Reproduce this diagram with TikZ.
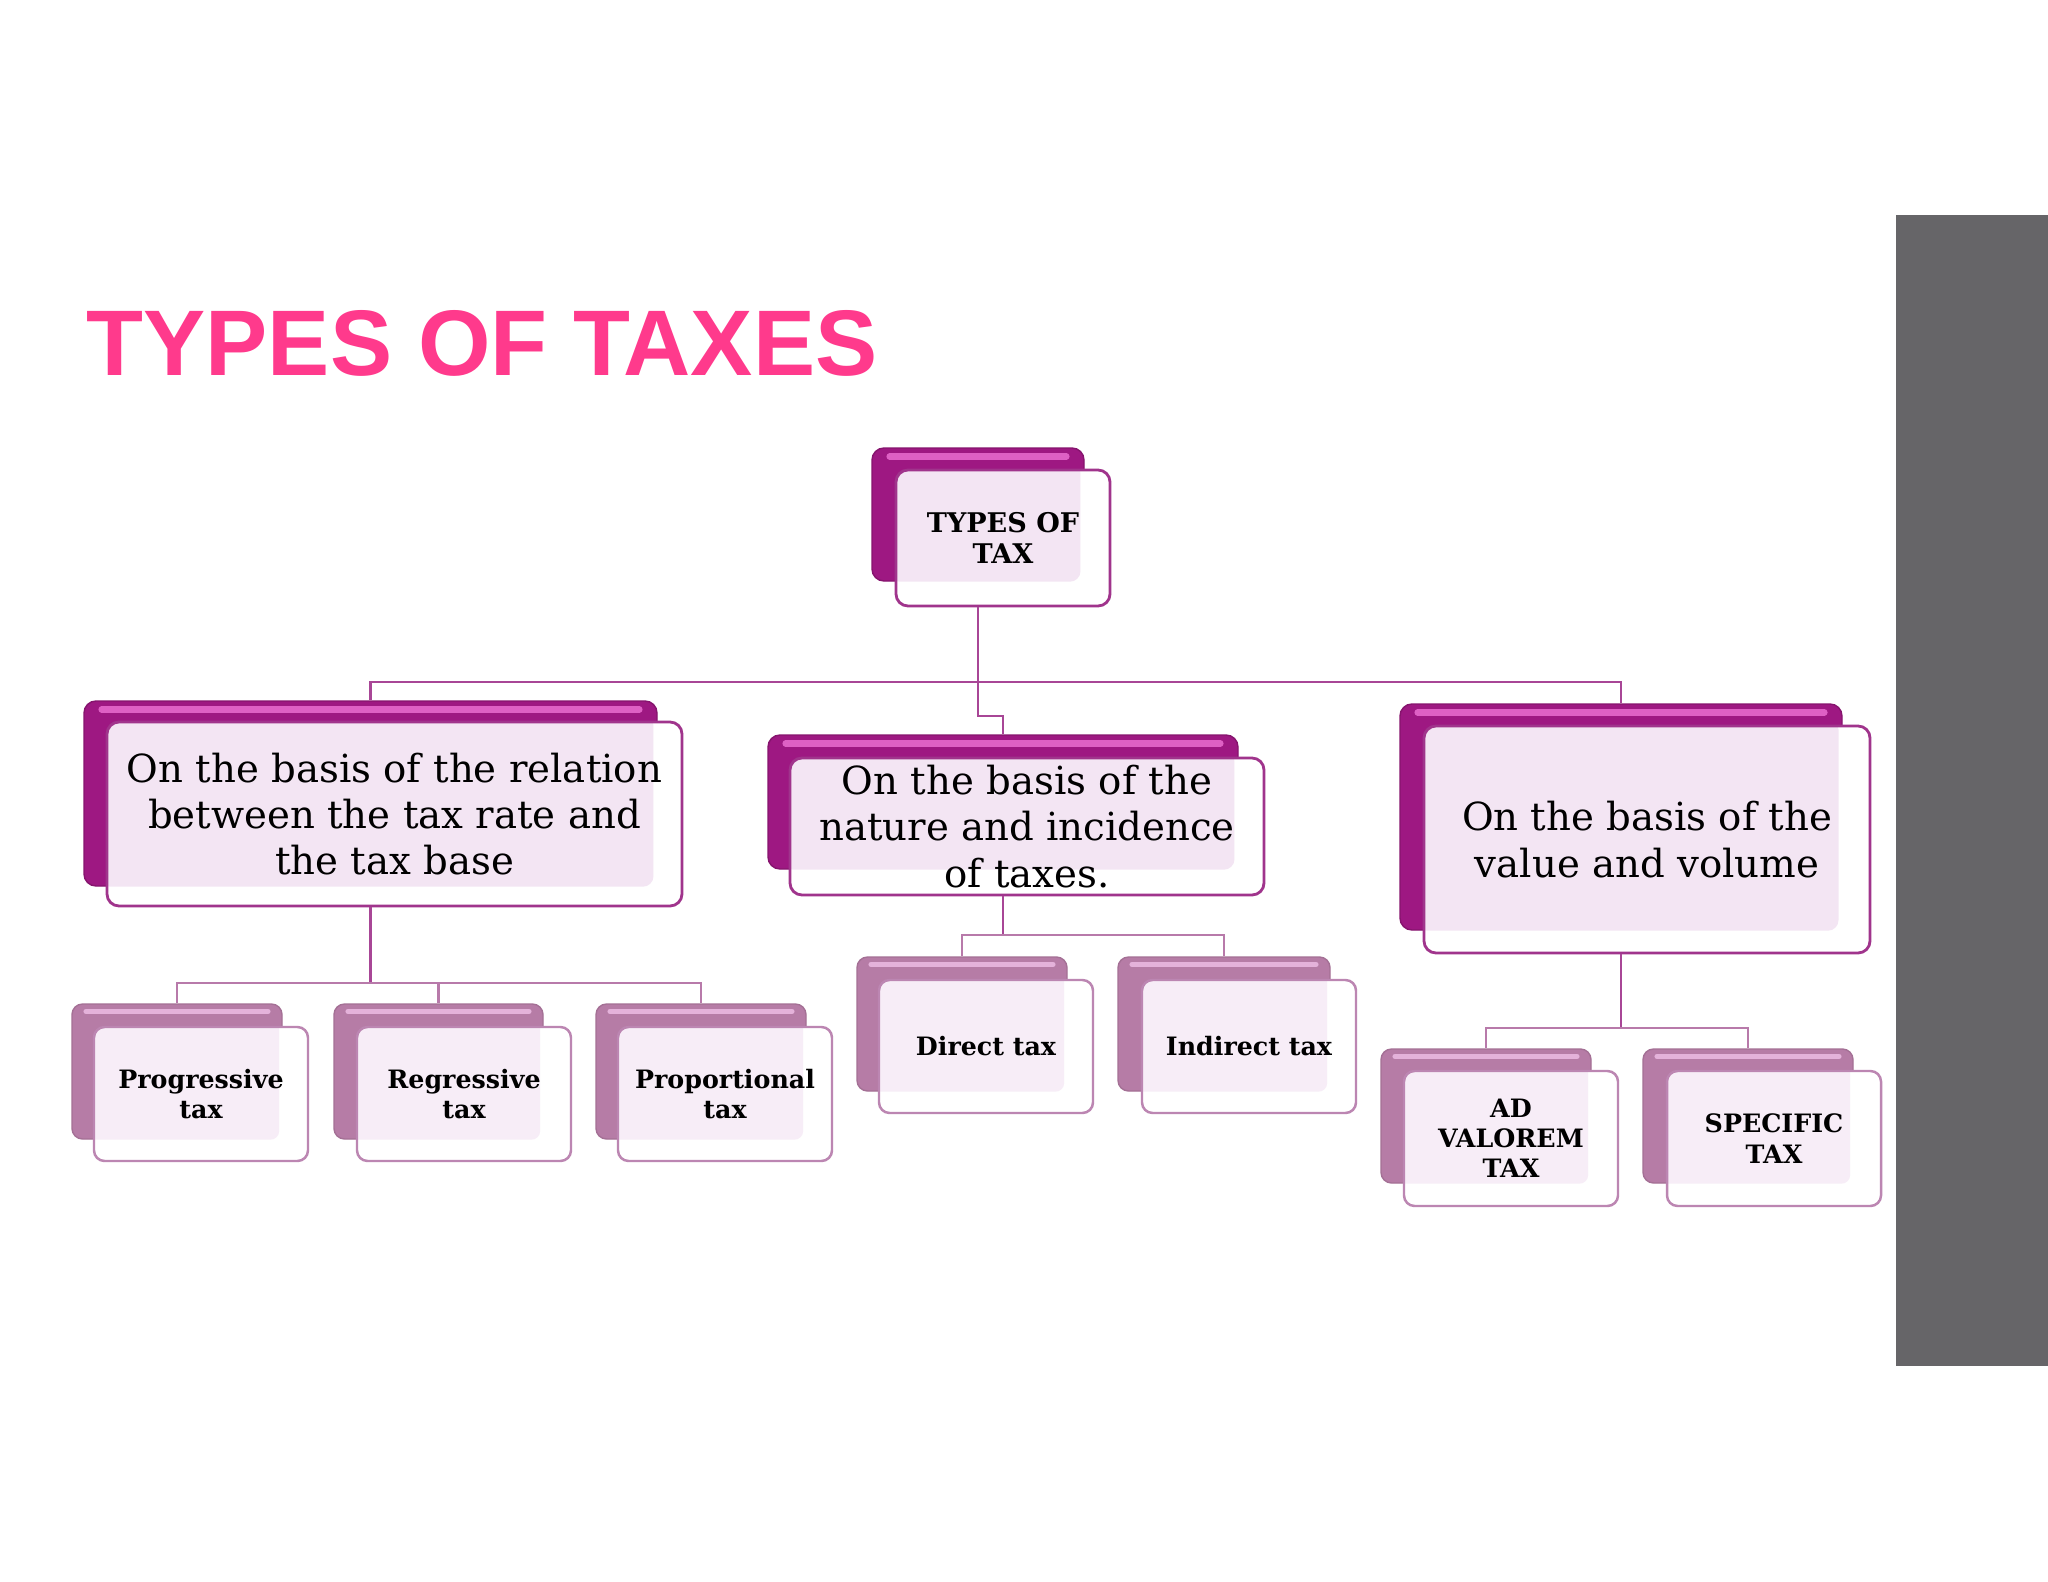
\documentclass[tikz,border=0pt]{standalone}
\usepackage{fontspec}
\setmainfont{DejaVu Serif}
\newfontfamily\titlefont{Liberation Sans}
\usetikzlibrary{fit}
\definecolor{bigbackc}{RGB}{158,24,130}
\definecolor{bighl}{RGB}{222,96,196}
\definecolor{bigborder}{RGB}{160,52,140}
\definecolor{smallbackc}{RGB}{182,124,166}
\definecolor{smallhl}{RGB}{228,178,218}
\definecolor{smallborder}{RGB}{188,134,178}
\definecolor{pinkfill}{RGB}{243,229,243}
\definecolor{connc}{RGB}{168,70,150}
\definecolor{conncl}{RGB}{184,122,170}
\definecolor{titlepink}{RGB}{255,58,140}
\definecolor{greybar}{RGB}{102,101,104}
\begin{document}
\begin{tikzpicture}[x=0.01cm,y=-0.01cm,
  bigbackbox/.style={fill=bigbackc, draw=bigbackc!85!black, line width=0.4pt, rounded corners=3.4pt, inner sep=0pt,
    path picture={\draw[bighl, line width=1.8pt, line cap=round]
      ([xshift=5pt,yshift=-2.4pt]path picture bounding box.north west) --
      ([xshift=-5pt,yshift=-2.4pt]path picture bounding box.north east);}},
  smallbackbox/.style={fill=smallbackc, draw=smallbackc!90!black, line width=0.4pt, rounded corners=3pt, inner sep=0pt,
    path picture={\draw[smallhl, line width=1.5pt, line cap=round]
      ([xshift=4pt,yshift=-2.1pt]path picture bounding box.north west) --
      ([xshift=-4pt,yshift=-2.1pt]path picture bounding box.north east);}},
  bigfront/.style={fill=white, draw=bigborder, line width=0.8pt, rounded corners=3.4pt, inner sep=0pt,
    path picture={\fill[pinkfill, rounded corners=3pt]
      ([xshift=-2pt,yshift=2pt]path picture bounding box.north west) rectangle ([xshift=-1.2pt]#1.south east);}},
  smallfront/.style={fill=white, draw=smallborder, line width=0.7pt, rounded corners=3pt, inner sep=0pt,
    path picture={\fill[pinkfill!70!white, rounded corners=2.5pt]
      ([xshift=-2pt,yshift=2pt]path picture bounding box.north west) rectangle ([xshift=-1pt]#1.south east);}},
  midtext/.style={align=center, inner sep=0pt, font=\fontsize{11}{13.2}\selectfont},
  labtext/.style={align=center, inner sep=0pt, font=\bfseries\fontsize{7.2}{8.6}\selectfont},
  conn/.style={draw=connc, line width=0.8pt},
  connl/.style={draw=conncl, line width=0.8pt}
]
\useasboundingbox (0,0) rectangle (2048,1582);
\fill[white] (0,0) rectangle (2048,1582);
% grey bar
\fill[greybar] (1896,215) rectangle (2048,1366);
% title
\node[anchor=base west, inner sep=0pt, text=titlepink,
  font=\titlefont\bfseries\fontsize{26.5}{30}\selectfont] (title) at (86,375) {TYPES OF TAXES};

% root
\node[bigbackbox, fit={(872,448) (1084,581)}] (rootB) {};
\node[bigfront=rootB, fit={(896,470) (1110,606)}] (root) {};
\node[labtext, font=\bfseries\fontsize{7.7}{8.9}\selectfont] (rootT) at (root.center) {TYPES OF\\TAX};

% level 1
\node[bigbackbox, fit={(84,701) (657,886)}] (leftB) {};
\node[bigfront=leftB, fit={(107,722) (682,906)}] (left) {};
\node[midtext] (leftT) at (left.center) {On the basis of the relation\\between the tax rate and\\the tax base};

\node[bigbackbox, fit={(768,735) (1238,869)}] (midB) {};
\node[bigfront=midB, fit={(790,758) (1264,895)}] (mid) {};
\node[midtext] (midT) at (mid.center) {On the basis of the\\nature and incidence\\of taxes.};

\node[bigbackbox, fit={(1400,704) (1842,930)}] (rightB) {};
\node[bigfront=rightB, fit={(1424,726) (1870,953)}] (right) {};
\node[midtext] (rightT) at (right.center) {On the basis of the\\value and volume};

% level 2 left
\node[smallbackbox, fit={(72,1004) (282,1139)}] (progB) {};
\node[smallfront=progB, fit={(94,1027) (308,1161)}] (prog) {};
\node[labtext] (progT) at (prog.center) {Progressive\\tax};

\node[smallbackbox, fit={(334,1004) (543,1139)}] (regB) {};
\node[smallfront=regB, fit={(357,1027) (571,1161)}] (reg) {};
\node[labtext] (regT) at (reg.center) {Regressive\\tax};

\node[smallbackbox, fit={(596,1004) (806,1139)}] (propB) {};
\node[smallfront=propB, fit={(618,1027) (832,1161)}] (prop) {};
\node[labtext] (propT) at (prop.center) {Proportional\\tax};

% level 2 middle
\node[smallbackbox, fit={(857,957) (1067,1091)}] (dirB) {};
\node[smallfront=dirB, fit={(879,980) (1093,1113)}] (dir) {};
\node[labtext] (dirT) at (dir.center) {Direct tax};

\node[smallbackbox, fit={(1118,957) (1330,1091)}] (indB) {};
\node[smallfront=indB, fit={(1142,980) (1356,1113)}] (ind) {};
\node[labtext] (indT) at (ind.center) {Indirect tax};

% level 2 right
\node[smallbackbox, fit={(1381,1049) (1591,1183)}] (advB) {};
\node[smallfront=advB, fit={(1404,1071) (1618,1206)}] (adv) {};
\node[labtext] (advT) at (adv.center) {AD\\VALOREM\\TAX};

\node[smallbackbox, fit={(1643,1049) (1853,1183)}] (specB) {};
\node[smallfront=specB, fit={(1667,1071) (1881,1206)}] (spec) {};
\node[labtext] (specT) at (spec.center) {SPECIFIC\\TAX};

% connectors
\coordinate (bus0) at (978,682);
\coordinate (jog) at (978,716);
\draw[conn] (root.south -| bus0) -- (bus0) -| (leftB.north);
\draw[conn] (bus0) -| (rightB.north);
\draw[conn] (bus0) -- (jog) -| (midB.north);

\coordinate (busL) at (370.5,983);
\draw[conn] (left.south -| busL) -- (busL);
\draw[connl] (busL) -| (progB.north);
\draw[connl] (busL) -| (regB.north);
\draw[connl] (busL) -| (propB.north);

\coordinate (busM) at (1003,935);
\draw[conn] (mid.south -| busM) -- (busM);
\draw[connl] (busM) -| (dirB.north);
\draw[connl] (busM) -| (indB.north);

\coordinate (busR) at (1621,1028);
\draw[conn] (right.south -| busR) -- (busR);
\draw[connl] (busR) -| (advB.north);
\draw[connl] (busR) -| (specB.north);
\end{tikzpicture}
\end{document}
